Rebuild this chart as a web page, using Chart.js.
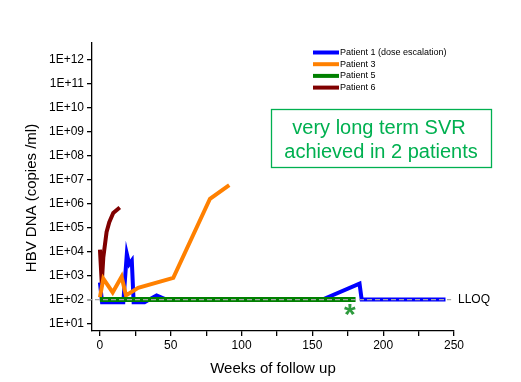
<!DOCTYPE html>
<html>
<head>
<meta charset="utf-8">
<script src="https://cdn.jsdelivr.net/npm/chart.js@4/dist/chart.umd.min.js"></script>
<style>
html,body{margin:0;padding:0;background:#fff;}
canvas{display:block;}
</style>
</head>
<body>
<canvas id="c" width="521" height="382"></canvas>
<script>
// ---- data ----
const seriesLabels = ['Patient 1 (dose escalation)', 'Patient 3', 'Patient 5', 'Patient 6'];
const seriesColors = ['#0000ff', '#ff8000', '#008000', '#800000'];

const p1Weeks  = [0, 1.5, 16.5, 19, 20.7, 22.5, 23.8, 31.5, 40, 46, 158, 183.3, 184.8, 244];
const p1Values = [520, 77, 77, 8000, 3000, 4200, 77, 77, 150, 105, 105, 460, 100, 100];

const p3Weeks  = [0, 2.4, 9, 15.3, 18.4, 27, 51.8, 77.7, 91.3];
const p3Values = [125, 740, 200, 900, 150, 310, 800, 1.6e6, 5.9e6];

const p5Weeks  = [0, 180.5];
const p5Values = [100, 100];

const p6Weeks  = [0, 1.3, 2.4, 4.7, 6.6, 9.4, 14];
const p6Values = [12000, 500, 5900, 6.6e4, 1.7e5, 4.1e5, 6.9e5];

const xTicks = [0, 25, 50, 75, 100, 125, 150, 175, 200, 225, 250];
const xTickLabels = ['0', '', '50', '', '100', '', '150', '', '200', '', '250'];
const yTicks = [1e1, 1e2, 1e3, 1e4, 1e5, 1e6, 1e7, 1e8, 1e9, 1e10, 1e11, 1e12];
const yTickLabels = ['1E+01','1E+02','1E+03','1E+04','1E+05','1E+06','1E+07','1E+08','1E+09','1E+10','1E+11','1E+12'];

const lloqValue = 100;
const lloqLabel = 'LLOQ';
const svrMarker = {x: 176.5, y: 42, text: '*'};
const noteLines = ['very long term SVR', 'achieved in 2 patients'];
const xTitle = 'Weeks of follow up';
const yTitle = 'HBV DNA (copies /ml)';

// ---- chart ----
const FONT = "'Liberation Sans', Arial, sans-serif";
const toPts = (w, v) => w.map((x, i) => ({x: x, y: v[i]}));
const allSeries = [
  toPts(p1Weeks, p1Values),
  toPts(p3Weeks, p3Values),
  toPts(p5Weeks, p5Values),
  toPts(p6Weeks, p6Values)
];
const drawOrder = [3, 1, 0, 2]; // lower = on top
const widths = [4, 4, 5, 4];

const datasets = allSeries.map((d, i) => ({
  label: seriesLabels[i],
  data: d,
  borderColor: seriesColors[i],
  backgroundColor: seriesColors[i],
  borderWidth: widths[i],
  pointRadius: 0,
  fill: false,
  tension: 0,
  order: drawOrder[i]
}));

const extras = {
  id: 'extras',
  afterDatasetsDraw(chart) {
    const ctx = chart.ctx, xs = chart.scales.x, ys = chart.scales.y;
    // LLOQ dashed line
    const yl = ys.getPixelForValue(lloqValue);
    ctx.save();
    ctx.strokeStyle = '#a6a6a6';
    ctx.lineWidth = 1.3;
    ctx.setLineDash([5, 3]);
    ctx.beginPath();
    ctx.moveTo(xs.left - 5, yl);
    ctx.lineTo(xs.getPixelForValue(248), yl);
    ctx.stroke();
    ctx.setLineDash([]);
    ctx.fillStyle = '#000';
    ctx.font = '12px ' + FONT;
    ctx.textBaseline = 'middle';
    ctx.textAlign = 'left';
    ctx.fillText(lloqLabel, xs.right + 4, yl);
    // SVR asterisk
    ctx.fillStyle = '#2e9b3e';
    ctx.font = 'bold 30px ' + FONT;
    ctx.textAlign = 'center';
    ctx.textBaseline = 'alphabetic';
    ctx.fillText(svrMarker.text, xs.getPixelForValue(svrMarker.x), ys.getPixelForValue(svrMarker.y) + 15.5);
    ctx.restore();
  },
  afterDraw(chart) {
    const ctx = chart.ctx;
    ctx.save();
    // legend
    ctx.font = '9px ' + FONT;
    ctx.textBaseline = 'middle';
    ctx.textAlign = 'left';
    seriesLabels.forEach((lab, i) => {
      const y = 52.5 + i * 11.7;
      ctx.strokeStyle = seriesColors[i];
      ctx.lineWidth = 4;
      ctx.beginPath();
      ctx.moveTo(313, y);
      ctx.lineTo(339, y);
      ctx.stroke();
      ctx.fillStyle = '#000';
      ctx.fillText(lab, 340, y);
    });
    // note box
    ctx.strokeStyle = '#00b050';
    ctx.lineWidth = 1.3;
    ctx.strokeRect(271.5, 109.5, 220, 58);
    ctx.fillStyle = '#00b050';
    ctx.font = '20px ' + FONT;
    ctx.textAlign = 'center';
    ctx.fillText(noteLines[0], 379, 128);
    ctx.fillText(noteLines[1], 381, 152);
    // y title
    ctx.fillStyle = '#000';
    ctx.font = '15px ' + FONT;
    ctx.translate(32, 198);
    ctx.rotate(-Math.PI / 2);
    ctx.textAlign = 'center';
    ctx.textBaseline = 'middle';
    ctx.fillText(yTitle, 0, 0);
    ctx.restore();
  }
};

new Chart(document.getElementById('c'), {
  type: 'line',
  data: {datasets: datasets},
  plugins: [extras],
  options: {
    responsive: false,
    animation: false,
    layout: {padding: {left: 0, right: 67, top: 43, bottom: 0}},
    plugins: {legend: {display: false}, tooltip: {enabled: false}},
    scales: {
      x: {
        type: 'linear',
        min: -5.6,
        max: 250,
        afterBuildTicks: s => { s.ticks = xTicks.map(v => ({value: v})); },
        afterFit: s => { s.height = 51; },
        ticks: {
          autoSkip: false, maxRotation: 0, color: '#000', padding: 2,
          font: {family: FONT, size: 12},
          callback: (v, i) => xTickLabels[i]
        },
        grid: {drawOnChartArea: false, drawTicks: true, tickLength: 5, color: '#000', lineWidth: 1.3},
        border: {display: true, color: '#000', width: 1.3},
        title: {display: true, text: xTitle, color: '#000', font: {family: FONT, size: 15}, padding: {top: 0, bottom: 4}}
      },
      y: {
        type: 'logarithmic',
        min: 4.9,
        max: 5e12,
        afterBuildTicks: s => { s.ticks = yTicks.map(v => ({value: v})); },
        afterFit: s => { s.width = 92; },
        ticks: {
          autoSkip: false, color: '#000', padding: 3,
          font: {family: FONT, size: 12},
          callback: (v, i) => yTickLabels[i]
        },
        grid: {drawOnChartArea: false, drawTicks: true, tickLength: 5, color: '#000', lineWidth: 1.3},
        border: {display: true, color: '#000', width: 1.3}
      }
    }
  }
});
</script>
</body>
</html>
